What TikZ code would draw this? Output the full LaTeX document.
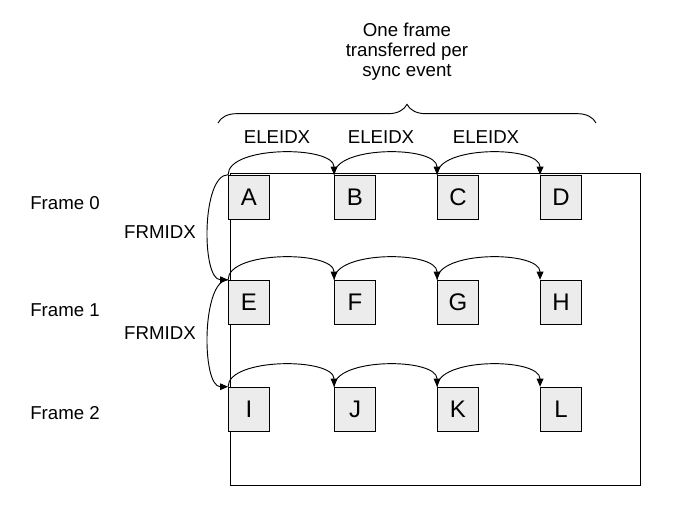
\documentclass[tikz,border=0pt]{standalone}
\usepackage{fontspec}
\setmainfont{Liberation Sans}
\usetikzlibrary{decorations.pathreplacing,arrows.meta}
\begin{document}
\begin{tikzpicture}[x=0.75pt,y=-0.75pt,
 cell/.style={draw,fill=gray!15,minimum width=31pt,minimum height=33pt,inner sep=0pt,font=\fontsize{18}{20}\selectfont},
 lbl/.style={font=\fontsize{14}{16}\selectfont},
 arr/.style={-{Triangle[length=6pt,width=5pt]},line width=0.7pt}]
\useasboundingbox (0,0) rectangle (676,516);
\draw[line width=0.7pt] (230,173) rectangle (640,485);
\foreach \n/\x/\y in {A/249/197,B/355/197,C/458/197,D/561/197,E/249/302,F/355/302,G/458/302,H/561/302,I/249/409,J/355/409,K/458/409,L/561/409}
  \node[cell] (\n) at (\x,\y) {\n};
\foreach \a/\b in {A/B,B/C,C/D,E/F,F/G,G/H,I/J,J/K,K/L}
  \draw[arr] (\a.north west) .. controls ([yshift=22pt]\a.north west) and ([yshift=22pt]\b.north west) .. (\b.north west);
\foreach \a/\b in {A/E,E/I}
  \draw[arr] (\a.north west) .. controls ([xshift=-20pt]\a.north west) and ([xshift=-20pt]\b.north west) .. (\b.north west);
\node[lbl] (e1) at (277,137) {ELEIDX};
\node[lbl] (e2) at (381,137) {ELEIDX};
\node[lbl] (e3) at (486,137) {ELEIDX};
\node[lbl] (f0) at (65,203) {Frame 0};
\node[lbl] (f1) at (65,310) {Frame 1};
\node[lbl] (f2) at (65,413) {Frame 2};
\node[lbl] (r1) at (160,232) {FRMIDX};
\node[lbl] (r2) at (160,333) {FRMIDX};
\coordinate (bl) at (218,123);
\coordinate (br) at (596,123);
\draw[decorate,decoration={brace,amplitude=14pt},line width=0.7pt] (bl) -- (br);
\node[lbl,align=center] (t) at (407,52) {One frame\\[-1pt]transferred per\\[-1pt]sync event};
\end{tikzpicture}
\end{document}
